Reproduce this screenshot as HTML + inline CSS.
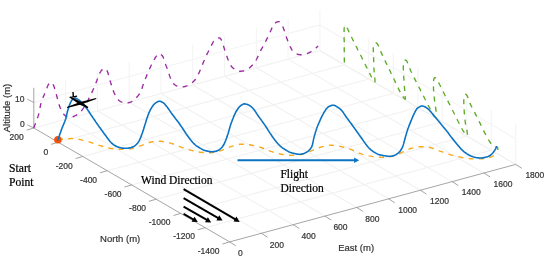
<!DOCTYPE html>
<html><head><meta charset="utf-8"><title>Dynamic soaring trajectory</title>
<style>
html,body{margin:0;padding:0;background:#fff;}
body{width:550px;height:263px;overflow:hidden;}
svg{display:block;}
.sans{font-family:"Liberation Sans",Arial,Helvetica,sans-serif;fill:#333;stroke:#333;stroke-width:0.2;}
.serif{font-family:"Liberation Serif","Times New Roman",Times,serif;fill:#000;stroke:#000;stroke-width:0.22;}
</style></head><body>
<svg width="550" height="263" viewBox="0 0 550 263">
<rect width="550" height="263" fill="#fff"/>
<g fill="none">
<line x1="65.59" y1="119.39" x2="261.39" y2="233.29" stroke="#f1f1f1" stroke-width="1.1"/>
<line x1="97.38" y1="110.78" x2="293.18" y2="224.68" stroke="#f1f1f1" stroke-width="1.1"/>
<line x1="129.17" y1="102.17" x2="324.97" y2="216.07" stroke="#f1f1f1" stroke-width="1.1"/>
<line x1="160.96" y1="93.56" x2="356.76" y2="207.46" stroke="#f1f1f1" stroke-width="1.1"/>
<line x1="192.74" y1="84.94" x2="388.54" y2="198.84" stroke="#f1f1f1" stroke-width="1.1"/>
<line x1="224.53" y1="76.33" x2="420.33" y2="190.23" stroke="#f1f1f1" stroke-width="1.1"/>
<line x1="256.32" y1="67.72" x2="452.12" y2="181.62" stroke="#f1f1f1" stroke-width="1.1"/>
<line x1="288.11" y1="59.11" x2="483.91" y2="173.01" stroke="#f1f1f1" stroke-width="1.1"/>
<line x1="319.90" y1="50.50" x2="515.70" y2="164.40" stroke="#f1f1f1" stroke-width="1.1"/>
<line x1="33.80" y1="128.00" x2="319.90" y2="50.50" stroke="#f1f1f1" stroke-width="1.1"/>
<line x1="58.27" y1="142.24" x2="344.38" y2="64.74" stroke="#f1f1f1" stroke-width="1.1"/>
<line x1="82.75" y1="156.47" x2="368.85" y2="78.97" stroke="#f1f1f1" stroke-width="1.1"/>
<line x1="107.23" y1="170.71" x2="393.33" y2="93.21" stroke="#f1f1f1" stroke-width="1.1"/>
<line x1="131.70" y1="184.95" x2="417.80" y2="107.45" stroke="#f1f1f1" stroke-width="1.1"/>
<line x1="156.18" y1="199.19" x2="442.28" y2="121.69" stroke="#f1f1f1" stroke-width="1.1"/>
<line x1="180.65" y1="213.43" x2="466.75" y2="135.93" stroke="#f1f1f1" stroke-width="1.1"/>
<line x1="205.12" y1="227.66" x2="491.23" y2="150.16" stroke="#f1f1f1" stroke-width="1.1"/>
<line x1="65.59" y1="119.39" x2="65.59" y2="79.19" stroke="#f4f4f4" stroke-width="1.1"/>
<line x1="97.38" y1="110.78" x2="97.38" y2="70.58" stroke="#f4f4f4" stroke-width="1.1"/>
<line x1="129.17" y1="102.17" x2="129.17" y2="61.97" stroke="#f4f4f4" stroke-width="1.1"/>
<line x1="160.96" y1="93.56" x2="160.96" y2="53.36" stroke="#f4f4f4" stroke-width="1.1"/>
<line x1="192.74" y1="84.94" x2="192.74" y2="44.74" stroke="#f4f4f4" stroke-width="1.1"/>
<line x1="224.53" y1="76.33" x2="224.53" y2="36.13" stroke="#f4f4f4" stroke-width="1.1"/>
<line x1="256.32" y1="67.72" x2="256.32" y2="27.52" stroke="#f4f4f4" stroke-width="1.1"/>
<line x1="288.11" y1="59.11" x2="288.11" y2="18.91" stroke="#f4f4f4" stroke-width="1.1"/>
<line x1="319.90" y1="50.50" x2="319.90" y2="10.30" stroke="#f4f4f4" stroke-width="1.1"/>
<line x1="33.80" y1="102.40" x2="319.90" y2="24.90" stroke="#f4f4f4" stroke-width="1.1"/>
<line x1="344.38" y1="64.74" x2="344.38" y2="24.54" stroke="#f4f4f4" stroke-width="1.1"/>
<line x1="368.85" y1="78.97" x2="368.85" y2="38.77" stroke="#f4f4f4" stroke-width="1.1"/>
<line x1="393.33" y1="93.21" x2="393.33" y2="53.01" stroke="#f4f4f4" stroke-width="1.1"/>
<line x1="417.80" y1="107.45" x2="417.80" y2="67.25" stroke="#f4f4f4" stroke-width="1.1"/>
<line x1="442.28" y1="121.69" x2="442.28" y2="81.49" stroke="#f4f4f4" stroke-width="1.1"/>
<line x1="466.75" y1="135.93" x2="466.75" y2="95.73" stroke="#f4f4f4" stroke-width="1.1"/>
<line x1="491.23" y1="150.16" x2="491.23" y2="109.96" stroke="#f4f4f4" stroke-width="1.1"/>
<line x1="515.70" y1="164.40" x2="515.70" y2="124.20" stroke="#f4f4f4" stroke-width="1.1"/>
<line x1="319.90" y1="24.90" x2="515.70" y2="138.80" stroke="#f4f4f4" stroke-width="1.1"/>
<line x1="319.90" y1="50.50" x2="515.70" y2="164.40" stroke="#f1f1f1" stroke-width="1.1"/>
<line x1="33.80" y1="128.00" x2="229.60" y2="241.90" stroke="#8e8e8e" stroke-width="0.8"/>
<line x1="229.60" y1="241.90" x2="515.70" y2="164.40" stroke="#8e8e8e" stroke-width="0.8"/>
<line x1="33.80" y1="128.00" x2="33.80" y2="87.80" stroke="#8e8e8e" stroke-width="0.8"/>
<line x1="33.80" y1="128.00" x2="26.60" y2="130.10" stroke="#8e8e8e" stroke-width="0.8"/>
<line x1="58.27" y1="142.24" x2="51.07" y2="144.34" stroke="#8e8e8e" stroke-width="0.8"/>
<line x1="82.75" y1="156.47" x2="75.55" y2="158.57" stroke="#8e8e8e" stroke-width="0.8"/>
<line x1="107.23" y1="170.71" x2="100.03" y2="172.81" stroke="#8e8e8e" stroke-width="0.8"/>
<line x1="131.70" y1="184.95" x2="124.50" y2="187.05" stroke="#8e8e8e" stroke-width="0.8"/>
<line x1="156.18" y1="199.19" x2="148.98" y2="201.29" stroke="#8e8e8e" stroke-width="0.8"/>
<line x1="180.65" y1="213.43" x2="173.45" y2="215.53" stroke="#8e8e8e" stroke-width="0.8"/>
<line x1="205.12" y1="227.66" x2="197.93" y2="229.76" stroke="#8e8e8e" stroke-width="0.8"/>
<line x1="229.60" y1="241.90" x2="222.40" y2="244.00" stroke="#8e8e8e" stroke-width="0.8"/>
<line x1="229.60" y1="241.90" x2="235.80" y2="245.80" stroke="#8e8e8e" stroke-width="0.8"/>
<line x1="261.39" y1="233.29" x2="267.59" y2="237.19" stroke="#8e8e8e" stroke-width="0.8"/>
<line x1="293.18" y1="224.68" x2="299.38" y2="228.58" stroke="#8e8e8e" stroke-width="0.8"/>
<line x1="324.97" y1="216.07" x2="331.17" y2="219.97" stroke="#8e8e8e" stroke-width="0.8"/>
<line x1="356.76" y1="207.46" x2="362.96" y2="211.36" stroke="#8e8e8e" stroke-width="0.8"/>
<line x1="388.54" y1="198.84" x2="394.74" y2="202.74" stroke="#8e8e8e" stroke-width="0.8"/>
<line x1="420.33" y1="190.23" x2="426.53" y2="194.13" stroke="#8e8e8e" stroke-width="0.8"/>
<line x1="452.12" y1="181.62" x2="458.32" y2="185.52" stroke="#8e8e8e" stroke-width="0.8"/>
<line x1="483.91" y1="173.01" x2="490.11" y2="176.91" stroke="#8e8e8e" stroke-width="0.8"/>
<line x1="515.70" y1="164.40" x2="521.90" y2="168.30" stroke="#8e8e8e" stroke-width="0.8"/>
<line x1="33.80" y1="128.00" x2="27.30" y2="124.80" stroke="#8e8e8e" stroke-width="0.8"/>
<line x1="33.80" y1="102.40" x2="27.30" y2="99.20" stroke="#8e8e8e" stroke-width="0.8"/>
</g>
<g fill="none" stroke-linejoin="round">
<path d="M33.8,128.0 L34.1,127.1 L34.5,126.1 L34.8,125.1 L35.2,124.2 L35.5,123.2 L35.9,122.3 L36.2,121.4 L36.5,120.5 L36.8,119.7 L37.1,119.0 L37.3,118.3 L37.6,117.6 L37.9,116.9 L38.1,116.1 L38.4,115.2 L38.7,114.1 L39.0,112.8 L39.3,111.3 L39.6,109.7 L40.0,108.0 L40.3,106.3 L40.6,104.7 L41.0,103.2 L41.3,101.9 L41.6,100.8 L42.0,99.9 L42.3,99.0 L42.6,98.3 L43.0,97.5 L43.3,96.9 L43.6,96.2 L43.9,95.5 L44.2,94.8 L44.4,94.1 L44.7,93.5 L44.9,92.9 L45.2,92.3 L45.4,91.6 L45.6,91.0 L45.9,90.4 L46.2,89.7 L46.4,89.1 L46.7,88.4 L47.0,87.7 L47.2,87.0 L47.5,86.4 L47.8,85.8 L48.0,85.3 L48.2,84.9 L48.4,84.5 L48.6,84.2 L48.8,84.0 L49.0,83.8 L49.2,83.6 L49.4,83.4 L49.6,83.2 L49.8,83.0 L50.0,82.8 L50.1,82.7 L50.3,82.5 L50.5,82.4 L50.6,82.3 L50.8,82.3 L51.0,82.3 L51.2,82.3 L51.4,82.4 L51.6,82.5 L51.8,82.7 L52.0,82.9 L52.2,83.1 L52.4,83.3 L52.6,83.6 L52.8,83.9 L53.0,84.2 L53.2,84.6 L53.4,84.9 L53.5,85.3 L53.7,85.8 L53.9,86.3 L54.1,86.8 L54.3,87.4 L54.5,88.0 L54.7,88.7 L54.9,89.5 L55.1,90.2 L55.3,91.0 L55.5,91.7 L55.7,92.4 L55.9,93.1 L56.1,93.7 L56.3,94.4 L56.5,95.1 L56.7,95.7 L56.9,96.4 L57.0,97.0 L57.2,97.6 L57.3,98.2 L57.5,98.7 L57.6,99.2 L57.7,99.7 L57.8,100.2 L57.9,100.7 L58.0,101.3 L58.2,101.9 L58.4,102.6 L58.6,103.3 L58.9,104.1 L59.2,105.0 L59.5,105.8 L59.7,106.6 L60.0,107.3 L60.3,108.0 L60.6,108.6 L60.8,109.2 L61.1,109.8 L61.3,110.4 L61.6,110.9 L61.9,111.4 L62.1,111.9 L62.4,112.3 L62.7,112.7 L62.9,113.1 L63.2,113.5 L63.4,113.8 L63.7,114.1 L63.9,114.4 L64.2,114.7 L64.5,115.0 L64.8,115.3 L65.1,115.6 L65.4,115.8 L65.7,116.1 L66.0,116.3 L66.4,116.5 L66.7,116.7 L67.1,116.8 L67.5,116.9 L67.9,117.0 L68.3,117.0 L68.7,117.1 L69.2,117.1 L69.6,117.1 L70.1,117.0 L70.5,117.0 L70.9,117.0 L71.4,116.9 L71.8,116.9 L72.2,116.9 L72.6,116.8 L73.1,116.6 L73.6,116.5 L74.2,116.2 L74.8,115.9 L75.6,115.5 L76.3,115.1 L77.1,114.6 L77.9,114.1 L78.7,113.5 L79.5,112.9 L80.2,112.2 L80.9,111.5 L81.6,110.7 L82.2,109.8 L82.9,108.9 L83.5,108.0 L84.1,107.0 L84.7,106.0 L85.3,105.1 L85.9,104.2 L86.4,103.3 L86.9,102.4 L87.4,101.4 L87.9,100.5 L88.4,99.5 L88.9,98.4 L89.5,97.3 L90.1,96.1 L90.7,94.8 L91.4,93.4 L92.0,92.1 L92.7,90.6 L93.3,89.2 L93.9,87.8 L94.5,86.5 L95.1,85.1 L95.6,83.8 L96.2,82.3 L96.7,81.0 L97.2,79.6 L97.7,78.4 L98.1,77.2 L98.5,76.2 L98.8,75.3 L99.1,74.6 L99.4,74.0 L99.6,73.5 L99.8,73.0 L100.0,72.5 L100.3,72.1 L100.5,71.7 L100.8,71.3 L101.0,70.9 L101.3,70.6 L101.6,70.3 L101.8,70.1 L102.1,69.8 L102.4,69.6 L102.6,69.4 L102.8,69.2 L103.1,69.0 L103.3,68.8 L103.5,68.7 L103.7,68.6 L104.0,68.5 L104.2,68.4 L104.4,68.4 L104.6,68.4 L104.9,68.5 L105.1,68.6 L105.3,68.8 L105.5,68.9 L105.8,69.1 L106.0,69.4 L106.2,69.6 L106.4,69.8 L106.6,70.1 L106.8,70.4 L107.0,70.7 L107.2,71.0 L107.3,71.4 L107.5,71.8 L107.7,72.3 L107.9,72.8 L108.1,73.4 L108.3,74.0 L108.4,74.7 L108.6,75.3 L108.8,76.0 L109.0,76.7 L109.2,77.4 L109.4,78.1 L109.6,78.8 L109.8,79.5 L110.0,80.2 L110.2,80.9 L110.4,81.7 L110.6,82.3 L110.8,83.0 L111.0,83.6 L111.2,84.2 L111.3,84.8 L111.5,85.3 L111.7,85.9 L111.9,86.4 L112.1,87.1 L112.3,87.7 L112.5,88.4 L112.8,89.1 L113.0,89.9 L113.3,90.6 L113.5,91.4 L113.9,92.2 L114.2,93.0 L114.6,93.8 L115.0,94.6 L115.5,95.5 L116.0,96.5 L116.6,97.4 L117.1,98.3 L117.7,99.1 L118.4,99.9 L119.0,100.5 L119.7,101.0 L120.4,101.5 L121.2,101.9 L122.0,102.2 L122.8,102.5 L123.5,102.7 L124.3,102.9 L125.0,103.0 L125.7,103.1 L126.3,103.1 L126.9,103.1 L127.6,103.0 L128.2,102.9 L128.8,102.7 L129.4,102.5 L130.0,102.3 L130.6,102.1 L131.2,101.8 L131.8,101.5 L132.5,101.1 L133.1,100.8 L133.7,100.3 L134.3,99.8 L135.0,99.2 L135.7,98.5 L136.4,97.7 L137.2,96.8 L138.0,95.9 L138.7,94.9 L139.4,94.0 L140.0,93.0 L140.6,92.1 L141.0,91.3 L141.4,90.5 L141.7,89.7 L141.9,88.9 L142.1,88.1 L142.3,87.2 L142.6,86.3 L143.0,85.2 L143.4,84.0 L143.9,82.8 L144.4,81.4 L144.9,80.0 L145.5,78.6 L146.1,77.1 L146.6,75.7 L147.2,74.3 L147.8,72.9 L148.4,71.4 L149.1,70.0 L149.7,68.5 L150.4,67.1 L151.0,65.7 L151.6,64.4 L152.2,63.2 L152.8,62.1 L153.4,61.0 L153.9,60.0 L154.5,59.1 L155.0,58.2 L155.5,57.5 L155.9,56.8 L156.3,56.2 L156.6,55.8 L156.8,55.4 L157.0,55.3 L157.1,55.1 L157.2,55.1 L157.3,55.0 L157.4,54.9 L157.6,54.8 L157.8,54.6 L158.0,54.4 L158.3,54.2 L158.5,54.0 L158.8,53.9 L159.0,53.8 L159.3,53.7 L159.6,53.7 L159.9,53.8 L160.2,53.9 L160.6,54.1 L160.9,54.3 L161.2,54.6 L161.6,54.9 L161.9,55.2 L162.2,55.6 L162.5,56.0 L162.8,56.4 L163.0,56.9 L163.3,57.4 L163.5,58.0 L163.7,58.5 L164.0,59.1 L164.2,59.7 L164.4,60.3 L164.6,60.9 L164.8,61.6 L165.0,62.2 L165.2,62.9 L165.4,63.6 L165.6,64.2 L165.8,64.9 L166.0,65.5 L166.3,66.2 L166.5,66.8 L166.8,67.5 L167.1,68.1 L167.3,68.7 L167.6,69.4 L167.8,70.0 L168.0,70.6 L168.2,71.3 L168.4,71.9 L168.6,72.5 L168.8,73.2 L169.0,73.8 L169.2,74.5 L169.4,75.1 L169.6,75.7 L169.9,76.4 L170.1,77.1 L170.3,77.7 L170.6,78.4 L170.9,79.0 L171.2,79.7 L171.5,80.3 L171.9,80.9 L172.2,81.6 L172.6,82.2 L173.0,82.9 L173.4,83.5 L173.9,84.0 L174.4,84.5 L175.0,85.0 L175.7,85.4 L176.4,85.8 L177.2,86.1 L178.0,86.4 L178.8,86.7 L179.7,86.8 L180.5,87.0 L181.4,87.0 L182.3,87.0 L183.1,86.9 L184.0,86.7 L184.9,86.5 L185.8,86.2 L186.7,85.9 L187.6,85.5 L188.5,85.0 L189.4,84.5 L190.3,83.9 L191.2,83.3 L192.1,82.7 L193.0,81.9 L193.9,81.1 L194.7,80.2 L195.5,79.3 L196.2,78.3 L196.9,77.1 L197.6,75.9 L198.2,74.6 L198.8,73.3 L199.4,72.0 L200.0,70.6 L200.6,69.2 L201.2,67.8 L201.8,66.3 L202.4,64.9 L203.0,63.3 L203.6,61.8 L204.3,60.3 L204.9,58.7 L205.6,57.2 L206.3,55.6 L207.1,53.9 L208.0,52.2 L208.8,50.5 L209.7,48.9 L210.5,47.4 L211.1,46.0 L211.7,44.9 L212.1,44.0 L212.4,43.4 L212.7,42.9 L212.8,42.6 L213.0,42.3 L213.1,42.1 L213.3,41.8 L213.5,41.5 L213.8,41.2 L214.0,40.8 L214.3,40.5 L214.6,40.3 L214.9,40.0 L215.2,39.7 L215.5,39.5 L215.8,39.3 L216.1,39.1 L216.4,38.9 L216.7,38.8 L216.9,38.6 L217.2,38.5 L217.5,38.4 L217.8,38.3 L218.0,38.2 L218.2,38.1 L218.4,38.0 L218.6,38.0 L218.8,37.9 L219.0,37.9 L219.2,37.9 L219.4,37.9 L219.6,38.0 L219.8,38.1 L220.0,38.2 L220.2,38.4 L220.4,38.5 L220.6,38.8 L220.8,39.0 L221.0,39.3 L221.2,39.6 L221.4,40.0 L221.5,40.3 L221.7,40.7 L221.8,41.2 L222.0,41.7 L222.2,42.2 L222.4,42.8 L222.6,43.5 L222.9,44.3 L223.2,45.2 L223.5,46.1 L223.8,47.1 L224.1,48.1 L224.5,49.2 L224.8,50.3 L225.2,51.3 L225.6,52.4 L225.9,53.5 L226.3,54.6 L226.7,55.8 L227.1,56.9 L227.4,58.0 L227.8,59.0 L228.2,60.0 L228.6,60.9 L228.9,61.8 L229.3,62.6 L229.6,63.4 L230.0,64.1 L230.4,64.9 L230.8,65.5 L231.3,66.2 L231.8,66.8 L232.4,67.4 L233.0,68.0 L233.7,68.5 L234.3,69.0 L235.0,69.5 L235.7,69.9 L236.3,70.2 L236.9,70.5 L237.5,70.7 L238.1,70.9 L238.7,71.1 L239.3,71.2 L240.0,71.2 L240.6,71.2 L241.3,71.2 L242.0,71.1 L242.8,71.0 L243.6,70.8 L244.4,70.5 L245.1,70.2 L245.9,69.9 L246.7,69.6 L247.4,69.2 L248.1,68.8 L248.8,68.4 L249.4,67.9 L250.0,67.4 L250.6,66.8 L251.2,66.3 L251.8,65.7 L252.4,65.1 L252.9,64.5 L253.5,63.9 L254.0,63.2 L254.5,62.6 L255.0,61.9 L255.4,61.1 L255.9,60.3 L256.4,59.5 L256.9,58.6 L257.3,57.7 L257.8,56.7 L258.3,55.7 L258.7,54.6 L259.2,53.5 L259.7,52.4 L260.3,51.3 L260.9,50.1 L261.6,48.9 L262.3,47.6 L263.0,46.2 L263.7,44.9 L264.4,43.6 L265.1,42.4 L265.7,41.2 L266.3,40.1 L266.8,39.0 L267.4,37.9 L267.9,36.8 L268.4,35.8 L268.8,34.8 L269.3,33.9 L269.7,33.0 L270.1,32.2 L270.4,31.4 L270.8,30.6 L271.1,29.9 L271.4,29.2 L271.7,28.5 L272.0,27.9 L272.3,27.3 L272.6,26.7 L272.9,26.1 L273.3,25.6 L273.6,25.0 L273.9,24.5 L274.2,24.1 L274.6,23.7 L274.9,23.3 L275.3,23.0 L275.7,22.7 L276.1,22.4 L276.5,22.2 L276.9,22.0 L277.3,21.9 L277.7,21.8 L278.0,21.7 L278.3,21.6 L278.5,21.6 L278.7,21.6 L279.0,21.7 L279.1,21.7 L279.3,21.8 L279.6,22.0 L279.8,22.2 L280.1,22.4 L280.3,22.7 L280.6,23.0 L280.9,23.4 L281.2,23.8 L281.5,24.3 L281.8,24.8 L282.1,25.3 L282.4,25.9 L282.7,26.5 L283.0,27.2 L283.3,27.9 L283.6,28.6 L283.9,29.4 L284.2,30.3 L284.5,31.2 L284.8,32.2 L285.2,33.2 L285.5,34.3 L285.9,35.5 L286.3,36.7 L286.7,37.9 L287.1,39.0 L287.5,40.2 L288.0,41.4 L288.4,42.6 L289.0,43.8 L289.5,45.1 L290.0,46.3 L290.6,47.4 L291.1,48.4 L291.6,49.3 L292.1,50.1 L292.6,50.7 L293.1,51.3 L293.5,51.8 L294.0,52.2 L294.5,52.6 L295.1,53.0 L295.6,53.3 L296.2,53.6 L296.7,53.9 L297.3,54.1 L297.9,54.3 L298.5,54.5 L299.2,54.6 L299.9,54.7 L300.6,54.7 L301.4,54.7 L302.3,54.6 L303.2,54.5 L304.1,54.3 L305.0,54.1 L306.0,53.9 L306.9,53.6 L307.7,53.3 L308.5,53.0 L309.3,52.6 L310.1,52.2 L310.9,51.8 L311.6,51.3 L312.3,50.8 L313.0,50.4 L313.7,49.9 L314.3,49.4 L314.9,48.9 L315.5,48.4 L316.0,47.9 L316.5,47.4 L317.0,46.9 L317.6,46.4 L318.1,45.9" stroke="#9a27a0" stroke-width="1.35" stroke-dasharray="5.1 5.4"/>
<path d="M344.4,64.7 L344.4,62.2 L344.3,59.7 L344.3,57.1 L344.3,54.6 L344.3,52.0 L344.2,49.6 L344.2,47.2 L344.2,45.0 L344.2,42.8 L344.2,40.7 L344.1,38.5 L344.1,36.5 L344.1,34.6 L344.1,32.8 L344.1,31.3 L344.1,30.0 L344.1,29.0 L344.2,28.3 L344.2,27.7 L344.3,27.4 L344.3,27.1 L344.4,26.9 L344.5,26.7 L344.6,26.5 L344.7,26.2 L344.8,26.0 L345.0,25.8 L345.1,25.7 L345.2,25.5 L345.4,25.5 L345.5,25.5 L345.7,25.5 L345.9,25.6 L346.0,25.8 L346.2,26.0 L346.3,26.3 L346.5,26.6 L346.7,26.9 L346.8,27.2 L347.0,27.5 L347.1,27.8 L347.2,28.0 L347.3,28.2 L347.4,28.4 L347.5,28.7 L347.7,29.0 L347.9,29.5 L348.2,30.1 L348.6,30.9 L349.0,31.8 L349.5,32.8 L350.0,33.8 L350.5,35.0 L351.1,36.2 L351.6,37.3 L352.2,38.5 L352.8,39.7 L353.4,40.9 L354.0,42.1 L354.6,43.4 L355.3,44.7 L355.9,46.0 L356.6,47.2 L357.2,48.5 L357.8,49.8 L358.5,51.0 L359.1,52.3 L359.8,53.5 L360.4,54.8 L361.1,56.0 L361.7,57.3 L362.3,58.5 L362.9,59.7 L363.5,60.9 L364.1,62.2 L364.7,63.4 L365.3,64.6 L365.9,65.7 L366.4,66.9 L367.0,68.0 L367.5,69.1 L368.1,70.2 L368.6,71.2 L369.1,72.3 L369.6,73.3 L370.1,74.2 L370.6,75.2 L371.0,76.0 L371.4,76.8 L371.9,77.6 L372.3,78.3 L372.7,79.0 L373.1,79.6 L373.4,80.1 L373.7,80.6 L374.0,81.0 L374.2,81.3 L374.4,81.6 L374.6,81.8 L374.7,81.9 L374.8,81.9 L374.9,81.9 L375.0,81.8 L375.0,81.5 L375.0,81.1 L375.0,80.6 L375.0,79.9 L374.9,79.2 L374.8,78.4 L374.7,77.6 L374.7,76.8 L374.6,76.0 L374.5,75.3 L374.5,74.6 L374.4,73.9 L374.3,73.1 L374.2,72.3 L374.1,71.4 L374.1,70.4 L374.0,69.2 L373.9,67.7 L373.9,66.0 L373.8,64.2 L373.7,62.2 L373.7,60.3 L373.6,58.4 L373.5,56.6 L373.5,55.1 L373.5,53.8 L373.4,52.5 L373.3,51.4 L373.3,50.4 L373.3,49.4 L373.2,48.5 L373.3,47.7 L373.3,47.0 L373.4,46.4 L373.5,45.8 L373.6,45.4 L373.8,45.1 L373.9,44.8 L374.1,44.5 L374.3,44.2 L374.5,44.0 L374.7,43.8 L374.9,43.5 L375.2,43.3 L375.4,43.1 L375.7,43.0 L376.0,42.9 L376.2,42.9 L376.5,43.0 L376.7,43.2 L377.0,43.4 L377.2,43.7 L377.4,44.0 L377.7,44.4 L377.9,44.9 L378.2,45.4 L378.5,46.0 L378.8,46.7 L379.1,47.4 L379.4,48.2 L379.8,49.0 L380.1,49.9 L380.5,50.9 L380.9,51.9 L381.4,53.0 L381.9,54.1 L382.5,55.4 L383.1,56.7 L383.8,58.0 L384.4,59.4 L385.1,60.8 L385.8,62.2 L386.4,63.5 L387.0,64.8 L387.7,66.2 L388.4,67.5 L389.0,68.9 L389.7,70.2 L390.3,71.5 L390.9,72.8 L391.5,74.0 L392.0,75.1 L392.6,76.2 L393.0,77.3 L393.5,78.3 L394.0,79.3 L394.5,80.3 L395.0,81.4 L395.5,82.5 L396.1,83.7 L396.7,85.0 L397.3,86.3 L398.0,87.6 L398.6,88.9 L399.2,90.1 L399.8,91.3 L400.3,92.3 L400.8,93.2 L401.2,94.0 L401.7,94.7 L402.1,95.4 L402.5,96.0 L402.8,96.5 L403.2,97.0 L403.5,97.5 L403.8,97.9 L404.1,98.2 L404.3,98.5 L404.6,98.7 L404.8,98.9 L405.0,99.1 L405.3,99.3 L405.5,99.5" stroke="#5caa26" stroke-width="1.35" stroke-dasharray="5 5.1" stroke-dashoffset="-2.30"/>
<path d="M405.5,99.5 L405.4,98.9 L405.4,98.4 L405.3,97.9 L405.2,97.3 L405.2,96.8 L405.1,96.2 L405.1,95.6 L405.0,95.0 L404.9,94.4 L404.9,93.7 L404.9,93.1 L404.8,92.5 L404.8,91.7 L404.7,91.0 L404.7,90.1 L404.6,89.1 L404.5,88.0 L404.4,86.7 L404.3,85.3 L404.2,83.9 L404.1,82.4 L404.0,80.9 L403.9,79.5 L403.8,78.1 L403.7,76.8 L403.6,75.4 L403.6,74.0 L403.5,72.7 L403.4,71.4 L403.4,70.1 L403.3,69.0 L403.3,68.0 L403.3,67.1 L403.3,66.3 L403.3,65.7 L403.3,65.0 L403.3,64.5 L403.3,64.0 L403.4,63.5 L403.5,63.0 L403.6,62.5 L403.8,62.0 L404.0,61.6 L404.2,61.2 L404.5,60.8 L404.7,60.5 L405.0,60.2 L405.2,60.1 L405.4,60.1 L405.6,60.1 L405.9,60.2 L406.1,60.4 L406.3,60.6 L406.6,60.9 L406.8,61.2 L407.0,61.5 L407.2,61.8 L407.4,62.2 L407.6,62.6 L407.7,63.0 L407.9,63.5 L408.1,64.0 L408.3,64.5 L408.5,65.0 L408.7,65.5 L408.9,66.1 L409.1,66.6 L409.3,67.2 L409.5,67.8 L409.8,68.5 L410.1,69.2 L410.4,70.0 L410.8,70.9 L411.2,71.8 L411.7,72.8 L412.2,73.8 L412.7,74.9 L413.3,75.9 L413.8,77.1 L414.4,78.2 L415.0,79.4 L415.6,80.6 L416.2,81.8 L416.9,83.1 L417.6,84.4 L418.2,85.7 L418.9,87.0 L419.5,88.2 L420.1,89.4 L420.7,90.6 L421.3,91.7 L421.9,92.9 L422.4,94.0 L423.0,95.2 L423.6,96.3 L424.2,97.5 L424.8,98.7 L425.5,100.0 L426.1,101.2 L426.8,102.5 L427.4,103.8 L428.0,105.0 L428.6,106.1 L429.2,107.2 L429.7,108.2 L430.3,109.2 L430.8,110.1 L431.2,111.0 L431.7,111.8 L432.1,112.6 L432.6,113.3 L433.0,114.0 L433.4,114.6 L433.8,115.2 L434.2,115.8 L434.6,116.3 L435.0,116.8 L435.3,117.1 L435.6,117.3 L435.8,117.3 L436.0,117.2 L436.1,116.8 L436.2,116.4 L436.3,115.9 L436.3,115.2 L436.3,114.5 L436.3,113.8 L436.3,113.0 L436.2,112.2 L436.1,111.3 L436.0,110.3 L435.8,109.2 L435.7,108.2 L435.5,107.1 L435.3,106.0 L435.2,105.0 L435.1,104.0 L434.9,103.0 L434.8,102.0 L434.7,101.1 L434.5,100.1 L434.4,99.1 L434.3,98.0 L434.2,97.0 L434.1,95.9 L434.0,94.8 L433.9,93.7 L433.8,92.5 L433.7,91.4 L433.6,90.3 L433.5,89.2 L433.5,88.1 L433.5,87.1 L433.4,86.0 L433.4,84.9 L433.4,83.9 L433.5,82.9 L433.5,82.0 L433.5,81.2 L433.6,80.5 L433.7,79.9 L433.8,79.4 L433.9,79.0 L434.0,78.6 L434.1,78.3 L434.3,78.1 L434.4,77.9 L434.6,77.8 L434.8,77.7 L435.0,77.7 L435.2,77.7 L435.5,77.8 L435.7,77.9 L436.0,78.0 L436.3,78.3 L436.5,78.5 L436.7,78.8 L436.9,79.1 L437.1,79.4 L437.3,79.8 L437.5,80.3 L437.8,80.8 L438.1,81.4 L438.4,82.1 L438.8,82.9 L439.2,83.7 L439.7,84.7 L440.2,85.7 L440.7,86.8 L441.3,87.9 L441.8,89.0 L442.4,90.1 L443.0,91.3 L443.6,92.5 L444.2,93.7 L444.8,95.0 L445.5,96.3 L446.1,97.6 L446.8,98.8 L447.4,100.1 L448.0,101.3 L448.6,102.6 L449.3,103.8 L449.9,105.0 L450.5,106.3 L451.1,107.5 L451.8,108.8 L452.4,110.0 L453.0,111.2 L453.7,112.5 L454.3,113.8 L454.9,115.0 L455.5,116.3 L456.2,117.5 L456.8,118.8 L457.4,120.0 L458.0,121.2 L458.7,122.5 L459.3,123.8 L460.0,125.1 L460.6,126.3 L461.2,127.5 L461.8,128.6 L462.3,129.5 L462.8,130.3 L463.2,131.0 L463.7,131.7 L464.1,132.2 L464.5,132.8 L464.8,133.2 L465.2,133.6 L465.5,134.0 L465.8,134.4 L466.1,134.7 L466.4,135.0 L466.7,135.3 L466.9,135.5 L467.1,135.6 L467.3,135.6 L467.4,135.5 L467.5,135.2 L467.5,134.9 L467.5,134.4 L467.4,133.8 L467.3,133.2 L467.2,132.5 L467.1,131.8 L467.0,131.0 L466.9,130.2 L466.7,129.4 L466.5,128.5 L466.2,127.6 L466.0,126.6 L465.8,125.5 L465.6,124.4 L465.4,123.2 L465.2,121.9 L465.1,120.4 L464.9,118.9 L464.7,117.3 L464.6,115.7 L464.4,114.1 L464.3,112.5 L464.2,111.0 L464.1,109.5 L464.0,108.0 L464.0,106.5 L463.9,105.0 L463.8,103.6 L463.8,102.2 L463.8,101.0 L463.8,100.0 L463.8,99.1 L463.8,98.5 L463.9,97.9 L463.9,97.4 L464.0,97.0 L464.1,96.7 L464.2,96.3 L464.3,96.0 L464.4,95.6 L464.6,95.3 L464.7,95.0 L464.9,94.7 L465.0,94.5 L465.2,94.3 L465.4,94.2 L465.6,94.2 L465.8,94.3 L466.0,94.4 L466.2,94.5 L466.5,94.8 L466.7,95.1 L466.9,95.5 L467.2,95.9 L467.5,96.5 L467.8,97.2 L468.1,98.0 L468.4,98.9 L468.7,99.8 L469.1,100.8 L469.5,101.9 L469.9,103.0 L470.4,104.1 L470.9,105.2 L471.5,106.4 L472.2,107.7 L472.8,108.9 L473.5,110.2 L474.2,111.5 L474.9,112.8 L475.5,114.1 L476.1,115.4 L476.8,116.6 L477.4,117.9 L478.0,119.1 L478.6,120.4 L479.3,121.7 L479.9,122.9 L480.5,124.2 L481.1,125.5 L481.8,126.8 L482.4,128.1 L483.0,129.3 L483.6,130.6 L484.2,131.9 L484.9,133.1 L485.5,134.3 L486.1,135.5 L486.8,136.7 L487.4,137.8 L488.1,139.0 L488.7,140.0 L489.4,141.1 L489.9,142.0 L490.5,142.8 L491.0,143.5 L491.5,144.1 L491.9,144.7 L492.3,145.1 L492.8,145.5 L493.2,145.9 L493.6,146.2 L494.0,146.5 L494.5,146.7 L495.0,146.9 L495.5,146.9 L495.9,147.0 L496.4,147.0 L496.8,147.1 L497.2,147.2 L497.5,147.5 L497.7,147.9 L497.8,148.3 L497.8,148.8 L497.8,149.3 L497.8,149.9 L497.8,150.4 L497.8,151.0 L497.8,151.5" stroke="#5caa26" stroke-width="1.35" stroke-dasharray="5.05 5.22" stroke-dashoffset="1.61"/>
<path d="M57.9,139.8 L58.4,139.7 L58.9,139.7 L59.4,139.6 L59.8,139.6 L60.3,139.5 L60.8,139.4 L61.4,139.4 L62.0,139.3 L62.7,139.2 L63.4,139.1 L64.1,139.1 L64.9,139.0 L65.7,138.9 L66.5,138.8 L67.2,138.8 L68.0,138.7 L68.8,138.7 L69.5,138.6 L70.2,138.6 L71.0,138.5 L71.8,138.5 L72.5,138.5 L73.2,138.6 L74.0,138.6 L74.7,138.7 L75.4,138.7 L76.1,138.8 L76.8,138.9 L77.5,139.1 L78.2,139.2 L79.1,139.4 L80.0,139.6 L81.1,139.8 L82.2,140.1 L83.5,140.4 L84.7,140.7 L86.1,141.1 L87.4,141.5 L88.7,141.8 L90.0,142.2 L91.3,142.6 L92.5,143.0 L93.8,143.4 L95.0,143.9 L96.3,144.3 L97.6,144.8 L98.8,145.2 L100.1,145.6 L101.4,146.0 L102.6,146.4 L103.9,146.7 L105.1,147.1 L106.3,147.4 L107.6,147.8 L108.8,148.0 L110.1,148.3 L111.4,148.5 L112.6,148.7 L113.9,148.9 L115.1,149.0 L116.4,149.1 L117.7,149.2 L118.9,149.3 L120.2,149.3 L121.5,149.3 L122.7,149.3 L124.0,149.3 L125.2,149.2 L126.5,149.2 L127.8,149.0 L129.0,148.9 L130.3,148.7 L131.6,148.5 L132.8,148.2 L134.1,147.8 L135.4,147.4 L136.6,147.0 L137.9,146.6 L139.1,146.2 L140.4,145.8 L141.7,145.4 L142.9,144.9 L144.2,144.4 L145.5,143.9 L146.7,143.4 L148.0,142.9 L149.2,142.5 L150.4,142.2 L151.6,141.9 L152.7,141.7 L153.8,141.5 L154.9,141.3 L156.0,141.2 L157.1,141.2 L158.3,141.2 L159.5,141.2 L160.8,141.3 L162.2,141.4 L163.6,141.7 L165.0,141.9 L166.4,142.2 L167.9,142.5 L169.3,142.8 L170.6,143.2 L171.9,143.6 L173.2,144.0 L174.4,144.5 L175.6,145.0 L176.8,145.5 L178.1,146.0 L179.3,146.4 L180.5,146.9 L181.7,147.3 L183.0,147.8 L184.2,148.2 L185.5,148.6 L186.7,149.0 L187.9,149.4 L189.2,149.8 L190.4,150.1 L191.6,150.4 L192.8,150.7 L194.0,151.0 L195.2,151.3 L196.4,151.6 L197.7,151.8 L198.9,152.0 L200.2,152.2 L201.5,152.4 L202.9,152.5 L204.4,152.6 L205.8,152.7 L207.2,152.8 L208.6,152.8 L210.0,152.8 L211.3,152.7 L212.5,152.6 L213.7,152.4 L214.8,152.3 L215.9,152.0 L217.0,151.8 L218.1,151.5 L219.2,151.2 L220.4,150.8 L221.6,150.4 L222.9,149.9 L224.2,149.4 L225.5,148.8 L226.8,148.3 L228.0,147.7 L229.3,147.2 L230.4,146.8 L231.5,146.4 L232.5,146.1 L233.5,145.8 L234.4,145.5 L235.3,145.2 L236.2,145.0 L237.1,144.8 L238.0,144.6 L238.9,144.5 L239.7,144.3 L240.5,144.3 L241.3,144.2 L242.0,144.2 L242.8,144.2 L243.6,144.2 L244.5,144.2 L245.4,144.3 L246.3,144.3 L247.2,144.4 L248.1,144.5 L249.1,144.7 L250.1,144.8 L251.0,145.0 L252.0,145.2 L253.0,145.4 L254.0,145.6 L255.0,145.8 L256.0,146.0 L257.0,146.3 L258.1,146.6 L259.1,146.9 L260.2,147.2 L261.3,147.6 L262.4,148.0 L263.6,148.5 L264.8,149.0 L265.9,149.5 L267.1,150.0 L268.3,150.5 L269.5,150.9 L270.7,151.3 L271.9,151.7 L273.1,152.1 L274.3,152.4 L275.5,152.8 L276.7,153.1 L278.0,153.4 L279.2,153.7 L280.4,154.0 L281.7,154.2 L282.9,154.5 L284.1,154.7 L285.4,154.9 L286.6,155.1 L287.9,155.2 L289.2,155.3 L290.5,155.3 L291.9,155.4 L293.4,155.3 L294.8,155.3 L296.2,155.2 L297.6,155.1 L299.0,154.9 L300.3,154.7 L301.5,154.4 L302.7,154.1 L303.8,153.8 L304.9,153.4 L306.0,152.9 L307.1,152.5 L308.2,152.1 L309.4,151.6 L310.6,151.1 L311.8,150.6 L313.1,150.1 L314.3,149.5 L315.6,148.9 L316.9,148.4 L318.2,147.9 L319.5,147.5 L320.8,147.1 L322.2,146.7 L323.6,146.4 L324.9,146.1 L326.3,145.8 L327.7,145.6 L329.1,145.4 L330.5,145.3 L331.9,145.3 L333.3,145.4 L334.8,145.5 L336.2,145.7 L337.6,145.9 L339.0,146.2 L340.3,146.4 L341.6,146.7 L342.8,147.0 L344.0,147.2 L345.1,147.5 L346.2,147.8 L347.3,148.2 L348.3,148.5 L349.4,148.9 L350.5,149.3 L351.6,149.7 L352.7,150.2 L353.8,150.8 L355.0,151.3 L356.1,151.8 L357.2,152.4 L358.3,152.9 L359.5,153.3 L360.7,153.7 L361.9,154.1 L363.1,154.4 L364.3,154.8 L365.5,155.1 L366.7,155.4 L368.0,155.6 L369.2,155.9 L370.4,156.1 L371.7,156.4 L372.9,156.6 L374.1,156.8 L375.4,157.0 L376.6,157.1 L377.9,157.2 L379.2,157.3 L380.5,157.3 L381.9,157.4 L383.4,157.3 L384.8,157.3 L386.2,157.2 L387.6,157.1 L389.0,156.9 L390.3,156.7 L391.5,156.4 L392.7,156.1 L393.8,155.8 L394.9,155.3 L396.0,154.9 L397.1,154.5 L398.2,154.0 L399.4,153.5 L400.6,153.0 L401.8,152.4 L403.1,151.8 L404.3,151.1 L405.6,150.5 L406.9,149.9 L408.2,149.4 L409.5,148.9 L410.8,148.5 L412.2,148.1 L413.6,147.8 L415.0,147.4 L416.4,147.2 L417.8,147.0 L419.1,146.8 L420.5,146.7 L421.8,146.7 L423.2,146.7 L424.5,146.8 L425.8,146.9 L427.2,147.1 L428.5,147.3 L429.7,147.5 L431.0,147.8 L432.2,148.1 L433.4,148.5 L434.6,148.9 L435.8,149.4 L437.0,149.9 L438.1,150.4 L439.3,150.9 L440.5,151.3 L441.7,151.7 L442.9,152.2 L444.1,152.6 L445.3,153.1 L446.5,153.5 L447.7,153.9 L448.9,154.3 L450.1,154.7 L451.3,155.1 L452.6,155.4 L453.9,155.7 L455.1,156.0 L456.4,156.3 L457.7,156.6 L458.9,156.8 L460.2,157.1 L461.5,157.3 L462.7,157.6 L464.0,157.8 L465.2,158.0 L466.5,158.2 L467.8,158.4 L469.0,158.6 L470.3,158.7 L471.6,158.8 L472.9,158.9 L474.2,158.9 L475.5,159.0 L476.8,159.0 L478.0,159.0 L479.2,158.9 L480.4,158.9 L481.5,158.8 L482.6,158.7 L483.6,158.6 L484.6,158.5 L485.6,158.4 L486.6,158.2 L487.5,158.0 L488.4,157.8 L489.3,157.6 L490.1,157.3 L490.8,157.0 L491.6,156.7 L492.3,156.4 L493.0,156.1 L493.8,155.8 L494.5,155.5" stroke="#f8aa17" stroke-width="1.4" stroke-dasharray="5.1 5.27"/>
<circle cx="57.9" cy="139.8" r="3.8" fill="#f4520b"/>
<path d="M57.9,139.8 L58.3,138.7 L58.7,137.5 L59.1,136.4 L59.5,135.2 L59.9,134.1 L60.3,133.0 L60.7,132.0 L61.0,131.0 L61.3,130.1 L61.6,129.3 L61.9,128.5 L62.2,127.8 L62.5,127.1 L62.7,126.4 L63.0,125.7 L63.3,125.0 L63.6,124.3 L63.9,123.6 L64.2,122.9 L64.5,122.2 L64.8,121.5 L65.0,120.8 L65.3,120.0 L65.6,119.2 L65.9,118.3 L66.1,117.3 L66.4,116.3 L66.6,115.2 L66.8,114.1 L67.1,113.0 L67.3,112.0 L67.6,111.0 L67.9,110.0 L68.2,109.0 L68.5,108.1 L68.8,107.1 L69.1,106.2 L69.4,105.3 L69.7,104.5 L70.0,103.7 L70.3,103.0 L70.6,102.4 L70.9,101.8 L71.2,101.3 L71.4,100.8 L71.7,100.4 L72.0,100.0 L72.3,99.6 L72.6,99.3 L72.8,99.0 L73.1,98.7 L73.4,98.5 L73.6,98.4 L73.9,98.3 L74.2,98.2 L74.5,98.1 L74.8,98.1 L75.1,98.1 L75.4,98.1 L75.8,98.2 L76.1,98.4 L76.4,98.5 L76.8,98.7 L77.2,98.9 L77.6,99.1 L78.0,99.4 L78.4,99.6 L78.9,99.9 L79.3,100.3 L79.8,100.7 L80.3,101.2 L80.9,101.7 L81.5,102.3 L82.2,103.1 L82.9,103.9 L83.6,104.7 L84.4,105.6 L85.1,106.5 L85.8,107.3 L86.5,108.2 L87.1,109.0 L87.7,109.8 L88.2,110.7 L88.8,111.5 L89.3,112.3 L89.9,113.2 L90.5,114.1 L91.1,115.0 L91.8,116.0 L92.5,117.0 L93.2,118.1 L94.0,119.2 L94.7,120.3 L95.4,121.4 L96.1,122.4 L96.7,123.3 L97.3,124.1 L97.8,124.8 L98.2,125.4 L98.7,126.0 L99.1,126.6 L99.5,127.2 L100.0,127.8 L100.5,128.5 L101.0,129.3 L101.6,130.0 L102.2,130.9 L102.8,131.7 L103.4,132.5 L104.0,133.4 L104.6,134.2 L105.2,135.0 L105.8,135.8 L106.4,136.6 L107.0,137.5 L107.6,138.3 L108.2,139.1 L108.8,139.9 L109.3,140.6 L109.8,141.2 L110.3,141.8 L110.8,142.3 L111.2,142.7 L111.6,143.1 L112.0,143.5 L112.5,143.8 L112.9,144.2 L113.3,144.5 L113.8,144.8 L114.3,145.2 L114.8,145.4 L115.3,145.7 L115.8,146.0 L116.3,146.2 L116.8,146.5 L117.3,146.7 L117.8,146.9 L118.3,147.1 L118.7,147.3 L119.1,147.4 L119.6,147.6 L120.1,147.7 L120.6,147.8 L121.1,147.9 L121.7,148.0 L122.3,148.1 L123.0,148.1 L123.7,148.2 L124.4,148.3 L125.1,148.3 L125.7,148.3 L126.3,148.3 L126.8,148.3 L127.3,148.3 L127.8,148.2 L128.3,148.1 L128.7,148.1 L129.1,148.0 L129.6,147.9 L130.0,147.8 L130.4,147.7 L130.9,147.6 L131.3,147.5 L131.7,147.3 L132.1,147.2 L132.5,147.0 L132.9,146.9 L133.3,146.7 L133.7,146.5 L134.0,146.3 L134.4,146.1 L134.7,145.8 L135.0,145.6 L135.4,145.3 L135.7,145.1 L136.0,144.8 L136.3,144.5 L136.6,144.2 L136.9,143.9 L137.2,143.6 L137.5,143.3 L137.8,142.9 L138.0,142.6 L138.3,142.2 L138.6,141.8 L138.8,141.4 L139.1,140.9 L139.3,140.5 L139.5,140.0 L139.8,139.5 L140.0,139.0 L140.2,138.5 L140.5,138.0 L140.7,137.5 L140.9,136.9 L141.1,136.4 L141.3,135.9 L141.5,135.3 L141.7,134.8 L141.9,134.2 L142.1,133.6 L142.3,133.1 L142.5,132.5 L142.7,131.9 L142.9,131.3 L143.1,130.7 L143.3,130.1 L143.5,129.5 L143.7,128.9 L143.8,128.4 L144.0,127.9 L144.1,127.4 L144.3,126.8 L144.5,126.2 L144.7,125.4 L145.0,124.5 L145.4,123.4 L145.8,122.0 L146.2,120.6 L146.7,119.0 L147.3,117.4 L147.8,115.9 L148.3,114.5 L148.8,113.2 L149.3,112.1 L149.8,111.0 L150.3,109.9 L150.8,109.0 L151.4,108.1 L151.9,107.2 L152.4,106.4 L152.9,105.7 L153.4,105.0 L153.9,104.5 L154.5,103.9 L155.0,103.5 L155.5,103.1 L156.0,102.7 L156.4,102.4 L156.9,102.1 L157.3,101.8 L157.7,101.6 L158.1,101.5 L158.4,101.3 L158.7,101.3 L159.1,101.2 L159.5,101.2 L159.9,101.3 L160.4,101.4 L160.8,101.5 L161.3,101.7 L161.8,101.9 L162.3,102.2 L162.9,102.5 L163.4,102.9 L163.9,103.3 L164.4,103.8 L164.9,104.3 L165.4,104.9 L165.9,105.5 L166.4,106.2 L167.0,106.8 L167.5,107.5 L168.0,108.2 L168.5,108.9 L169.0,109.5 L169.4,110.2 L169.9,110.9 L170.4,111.6 L170.9,112.4 L171.5,113.3 L172.2,114.2 L173.0,115.2 L173.8,116.3 L174.7,117.5 L175.6,118.7 L176.6,119.9 L177.6,121.2 L178.6,122.5 L179.5,123.8 L180.4,125.2 L181.4,126.6 L182.4,128.0 L183.3,129.5 L184.3,131.0 L185.3,132.5 L186.2,133.9 L187.2,135.2 L188.1,136.5 L189.0,137.7 L189.9,138.9 L190.8,140.1 L191.7,141.2 L192.6,142.3 L193.5,143.3 L194.5,144.2 L195.4,145.0 L196.4,145.8 L197.5,146.5 L198.5,147.2 L199.5,147.8 L200.5,148.4 L201.4,148.9 L202.2,149.3 L202.9,149.7 L203.6,150.0 L204.2,150.2 L204.8,150.4 L205.4,150.6 L205.9,150.7 L206.4,150.9 L207.0,151.0 L207.6,151.1 L208.1,151.3 L208.7,151.4 L209.2,151.5 L209.8,151.6 L210.3,151.6 L210.8,151.7 L211.3,151.7 L211.8,151.7 L212.3,151.7 L212.7,151.7 L213.2,151.7 L213.7,151.6 L214.1,151.6 L214.6,151.5 L215.0,151.4 L215.4,151.3 L215.9,151.2 L216.3,151.1 L216.7,151.0 L217.1,150.8 L217.5,150.7 L217.9,150.5 L218.3,150.3 L218.7,150.1 L219.0,149.9 L219.4,149.7 L219.7,149.4 L220.0,149.2 L220.4,148.9 L220.7,148.6 L221.0,148.3 L221.3,148.0 L221.6,147.6 L222.0,147.3 L222.3,146.9 L222.6,146.5 L222.9,146.1 L223.1,145.7 L223.4,145.3 L223.6,144.9 L223.9,144.5 L224.1,144.1 L224.3,143.7 L224.4,143.3 L224.6,142.9 L224.8,142.4 L225.0,142.0 L225.2,141.6 L225.4,141.1 L225.6,140.7 L225.8,140.2 L225.9,139.7 L226.1,139.2 L226.4,138.6 L226.6,138.0 L226.8,137.3 L227.1,136.6 L227.3,135.8 L227.6,134.9 L227.9,134.1 L228.2,133.2 L228.4,132.4 L228.7,131.5 L228.9,130.7 L229.2,129.9 L229.4,129.1 L229.6,128.2 L229.8,127.4 L230.1,126.5 L230.4,125.5 L230.7,124.5 L231.1,123.3 L231.6,122.1 L232.1,120.7 L232.6,119.3 L233.2,118.0 L233.7,116.6 L234.3,115.3 L234.8,114.2 L235.3,113.2 L235.8,112.2 L236.3,111.2 L236.9,110.3 L237.4,109.5 L237.9,108.8 L238.4,108.0 L238.9,107.4 L239.4,106.8 L239.9,106.3 L240.5,105.8 L241.0,105.4 L241.5,105.1 L242.0,104.8 L242.4,104.5 L242.9,104.3 L243.3,104.1 L243.7,104.0 L244.1,103.9 L244.4,103.9 L244.7,103.9 L245.1,104.0 L245.5,104.0 L245.9,104.1 L246.4,104.2 L246.8,104.3 L247.3,104.5 L247.8,104.6 L248.3,104.9 L248.9,105.1 L249.4,105.4 L249.9,105.7 L250.4,106.1 L250.9,106.4 L251.4,106.9 L251.9,107.3 L252.4,107.8 L253.0,108.4 L253.5,109.0 L254.0,109.6 L254.5,110.3 L255.0,111.0 L255.6,111.8 L256.1,112.6 L256.6,113.5 L257.2,114.4 L257.8,115.3 L258.4,116.2 L259.1,117.1 L259.8,118.1 L260.5,119.1 L261.3,120.1 L262.0,121.1 L262.8,122.2 L263.7,123.4 L264.5,124.6 L265.4,125.9 L266.3,127.3 L267.3,128.8 L268.2,130.4 L269.2,131.9 L270.2,133.4 L271.2,134.8 L272.1,136.2 L273.0,137.5 L273.9,138.7 L274.8,139.9 L275.7,141.1 L276.6,142.3 L277.5,143.3 L278.4,144.3 L279.4,145.3 L280.3,146.2 L281.4,147.0 L282.4,147.8 L283.4,148.5 L284.5,149.2 L285.4,149.8 L286.4,150.4 L287.2,150.9 L288.0,151.3 L288.6,151.7 L289.3,152.0 L289.9,152.2 L290.4,152.4 L291.0,152.6 L291.5,152.7 L292.0,152.9 L292.5,153.1 L292.9,153.2 L293.3,153.3 L293.7,153.4 L294.1,153.5 L294.5,153.5 L294.9,153.6 L295.3,153.7 L295.7,153.8 L296.2,153.9 L296.6,154.0 L297.1,154.1 L297.6,154.2 L298.0,154.2 L298.5,154.3 L299.0,154.3 L299.5,154.3 L300.0,154.3 L300.5,154.2 L301.0,154.2 L301.5,154.1 L302.0,154.0 L302.5,153.9 L303.0,153.8 L303.5,153.7 L303.9,153.5 L304.4,153.3 L304.8,153.1 L305.2,152.9 L305.6,152.7 L306.0,152.5 L306.4,152.3 L306.8,152.1 L307.1,151.9 L307.4,151.6 L307.8,151.4 L308.1,151.1 L308.4,150.9 L308.7,150.6 L309.0,150.3 L309.3,150.0 L309.6,149.6 L310.0,149.3 L310.3,148.9 L310.6,148.5 L310.9,148.1 L311.2,147.7 L311.4,147.3 L311.6,146.9 L311.8,146.5 L312.0,146.1 L312.1,145.7 L312.2,145.3 L312.4,144.9 L312.5,144.5 L312.6,144.0 L312.7,143.5 L312.8,143.0 L312.9,142.6 L313.0,142.0 L313.1,141.5 L313.2,140.9 L313.3,140.2 L313.5,139.5 L313.7,138.7 L313.9,137.7 L314.2,136.7 L314.5,135.6 L314.8,134.5 L315.1,133.5 L315.4,132.4 L315.7,131.5 L316.0,130.7 L316.2,129.9 L316.4,129.2 L316.7,128.5 L316.9,127.8 L317.2,127.1 L317.5,126.2 L317.9,125.3 L318.4,124.2 L318.9,123.0 L319.5,121.7 L320.1,120.3 L320.7,118.9 L321.3,117.6 L321.9,116.3 L322.5,115.2 L323.1,114.1 L323.6,113.1 L324.2,112.2 L324.7,111.2 L325.3,110.4 L325.8,109.6 L326.4,108.8 L326.9,108.2 L327.4,107.7 L328.0,107.2 L328.5,106.8 L329.0,106.5 L329.5,106.3 L330.0,106.1 L330.5,105.9 L330.9,105.7 L331.3,105.5 L331.7,105.4 L332.0,105.3 L332.4,105.2 L332.7,105.2 L333.1,105.2 L333.5,105.2 L333.9,105.3 L334.4,105.4 L334.8,105.6 L335.4,105.8 L335.9,106.1 L336.4,106.4 L336.9,106.7 L337.5,107.0 L338.0,107.4 L338.5,107.8 L339.0,108.1 L339.5,108.5 L340.0,108.9 L340.5,109.4 L341.1,109.9 L341.6,110.4 L342.1,111.0 L342.6,111.6 L343.1,112.3 L343.5,112.9 L344.0,113.6 L344.5,114.4 L345.1,115.3 L345.7,116.2 L346.4,117.2 L347.2,118.3 L348.2,119.6 L349.2,121.0 L350.2,122.4 L351.3,123.8 L352.3,125.3 L353.4,126.7 L354.4,128.1 L355.4,129.5 L356.3,130.8 L357.3,132.2 L358.3,133.5 L359.2,134.9 L360.2,136.2 L361.1,137.5 L362.0,138.8 L362.9,140.1 L363.8,141.4 L364.7,142.6 L365.6,143.9 L366.5,145.1 L367.4,146.2 L368.3,147.3 L369.2,148.3 L370.2,149.2 L371.2,150.1 L372.3,150.9 L373.3,151.6 L374.4,152.3 L375.4,152.9 L376.3,153.4 L377.2,153.9 L378.0,154.3 L378.7,154.6 L379.3,154.8 L379.9,154.9 L380.5,155.0 L381.0,155.1 L381.5,155.2 L382.0,155.3 L382.5,155.4 L382.9,155.5 L383.3,155.6 L383.6,155.7 L384.0,155.7 L384.4,155.8 L384.8,155.8 L385.3,155.9 L385.9,156.0 L386.5,156.0 L387.1,156.1 L387.8,156.2 L388.5,156.2 L389.1,156.3 L389.7,156.3 L390.3,156.3 L390.8,156.3 L391.2,156.2 L391.6,156.2 L392.0,156.1 L392.4,156.0 L392.8,155.9 L393.1,155.8 L393.5,155.7 L393.9,155.6 L394.3,155.4 L394.6,155.3 L395.0,155.1 L395.3,154.9 L395.7,154.7 L396.1,154.5 L396.4,154.3 L396.7,154.1 L397.1,153.9 L397.4,153.6 L397.7,153.4 L398.1,153.1 L398.4,152.9 L398.7,152.6 L399.0,152.3 L399.3,152.0 L399.6,151.6 L400.0,151.3 L400.3,150.9 L400.6,150.5 L400.9,150.1 L401.1,149.7 L401.4,149.3 L401.6,148.9 L401.8,148.5 L402.0,148.1 L402.2,147.7 L402.4,147.3 L402.6,146.9 L402.7,146.5 L402.9,146.0 L403.1,145.5 L403.2,145.0 L403.4,144.5 L403.6,143.9 L403.7,143.4 L403.9,142.8 L404.0,142.2 L404.2,141.5 L404.4,140.8 L404.6,140.0 L404.8,139.2 L405.1,138.4 L405.3,137.6 L405.5,136.7 L405.7,135.9 L406.0,135.0 L406.2,134.2 L406.5,133.3 L406.7,132.5 L407.0,131.7 L407.2,130.8 L407.5,129.9 L407.8,129.0 L408.2,128.0 L408.6,126.9 L409.0,125.8 L409.5,124.6 L410.0,123.4 L410.5,122.1 L411.0,120.9 L411.5,119.7 L412.0,118.5 L412.5,117.3 L413.0,116.1 L413.6,114.9 L414.1,113.7 L414.7,112.6 L415.2,111.5 L415.7,110.6 L416.2,109.8 L416.7,109.1 L417.1,108.6 L417.5,108.2 L417.9,107.9 L418.3,107.6 L418.7,107.3 L419.1,107.1 L419.5,106.9 L419.9,106.7 L420.2,106.5 L420.5,106.3 L420.9,106.2 L421.2,106.1 L421.5,106.0 L421.8,106.0 L422.2,106.0 L422.6,106.0 L422.9,106.1 L423.3,106.2 L423.7,106.3 L424.1,106.5 L424.5,106.6 L424.9,106.8 L425.3,107.0 L425.7,107.2 L426.1,107.5 L426.4,107.7 L426.8,108.0 L427.2,108.3 L427.6,108.6 L427.9,108.9 L428.3,109.2 L428.7,109.5 L429.0,109.8 L429.3,110.2 L429.7,110.5 L430.0,110.9 L430.3,111.3 L430.7,111.6 L431.0,112.0 L431.3,112.4 L431.6,112.8 L432.0,113.2 L432.3,113.6 L432.6,114.0 L432.9,114.4 L433.2,114.8 L433.5,115.2 L433.8,115.6 L434.1,115.9 L434.4,116.2 L434.7,116.5 L435.0,116.9 L435.3,117.2 L435.6,117.6 L436.0,118.0 L436.4,118.4 L436.8,118.9 L437.2,119.4 L437.6,119.9 L438.0,120.5 L438.5,121.0 L438.9,121.5 L439.4,122.1 L439.9,122.7 L440.3,123.2 L440.8,123.8 L441.3,124.4 L441.8,125.0 L442.3,125.7 L442.8,126.3 L443.3,126.9 L443.8,127.5 L444.3,128.2 L444.9,128.8 L445.4,129.5 L446.0,130.1 L446.5,130.7 L447.0,131.4 L447.5,132.0 L448.0,132.6 L448.4,133.2 L448.8,133.8 L449.2,134.3 L449.6,134.9 L450.0,135.5 L450.5,136.1 L451.0,136.8 L451.6,137.5 L452.2,138.3 L452.8,139.1 L453.4,139.9 L454.1,140.7 L454.8,141.5 L455.5,142.4 L456.2,143.2 L456.9,144.1 L457.7,145.0 L458.4,145.9 L459.2,146.8 L460.0,147.7 L460.7,148.6 L461.5,149.4 L462.3,150.2 L463.1,150.9 L463.8,151.6 L464.6,152.2 L465.4,152.8 L466.2,153.3 L467.0,153.9 L467.7,154.3 L468.5,154.8 L469.3,155.2 L470.0,155.6 L470.8,155.9 L471.5,156.2 L472.3,156.5 L473.1,156.8 L473.8,157.0 L474.6,157.2 L475.4,157.4 L476.1,157.6 L476.9,157.7 L477.7,157.8 L478.5,157.9 L479.3,158.0 L480.0,158.0 L480.8,158.0 L481.6,158.0 L482.4,157.9 L483.2,157.8 L484.0,157.6 L484.8,157.5 L485.5,157.3 L486.2,157.1 L486.9,156.9 L487.5,156.7 L488.1,156.5 L488.6,156.3 L489.1,156.0 L489.6,155.7 L490.1,155.5 L490.5,155.1 L491.0,154.8 L491.4,154.4 L491.9,154.0 L492.3,153.6 L492.6,153.1 L493.0,152.7 L493.4,152.2 L493.7,151.7 L494.1,151.2 L494.4,150.7 L494.8,150.2 L495.1,149.6 L495.4,149.1 L495.7,148.5 L496.1,147.9 L496.4,147.4 L496.7,146.8" stroke="#0b73c3" stroke-width="1.6" stroke-linecap="round"/>
</g>
<!-- flight direction arrow -->
<line x1="237.5" y1="160.3" x2="355" y2="160.3" stroke="#0b73c3" stroke-width="1.9"/>
<polygon points="359.2,160.3 354.1,157.5 354.1,163.1" fill="#0b73c3"/>
<!-- wind arrows -->
<line x1="183.6" y1="189.1" x2="235.8" y2="219.6" stroke="#000" stroke-width="1.9"/>
<polygon points="239.7,221.9 233.5,221.6 236.4,216.6" fill="#000"/>
<line x1="183.6" y1="198.1" x2="218.7" y2="218.4" stroke="#000" stroke-width="1.9"/>
<polygon points="222.6,220.6 216.4,220.4 219.3,215.3" fill="#000"/>
<line x1="183.6" y1="206.7" x2="207.3" y2="220.2" stroke="#000" stroke-width="1.9"/>
<polygon points="211.2,222.4 205.0,222.2 207.9,217.2" fill="#000"/>
<line x1="183.6" y1="213.9" x2="193.9" y2="219.8" stroke="#000" stroke-width="1.9"/>
<polygon points="197.8,222.0 191.6,221.8 194.5,216.8" fill="#000"/>
<!-- glider -->
<g fill="#000" stroke="none">
<polygon points="66.85,107.1 80.2,102.1 96.05,98.0 96.35,99.0 81.0,104.6 67.15,108.1"/>
<polygon points="70.1,96.6 81.4,102.0 88.35,107.0 87.65,108.2 79.9,104.7 69.5,97.6"/>
<polygon points="72.3,92.1 73.7,92.1 74.1,97.1 72.7,97.1"/>
<polygon points="69.6,96.9 77.0,95.6 77.2,96.8 69.9,98.1"/>
</g>
<text x="23.8" y="140.4" text-anchor="end" font-size="8.5" class="sans">200</text>
<text x="48.2" y="154.6" text-anchor="end" font-size="8.5" class="sans">0</text>
<text x="72.7" y="168.7" text-anchor="end" font-size="8.5" class="sans">-200</text>
<text x="97.1" y="182.9" text-anchor="end" font-size="8.5" class="sans">-400</text>
<text x="121.6" y="197.0" text-anchor="end" font-size="8.5" class="sans">-600</text>
<text x="146.1" y="211.2" text-anchor="end" font-size="8.5" class="sans">-800</text>
<text x="170.5" y="225.3" text-anchor="end" font-size="8.5" class="sans">-1000</text>
<text x="195.0" y="239.4" text-anchor="end" font-size="8.5" class="sans">-1200</text>
<text x="219.4" y="253.6" text-anchor="end" font-size="8.5" class="sans">-1400</text>
<text x="238.0" y="256.1" text-anchor="start" font-size="8.5" class="sans">0</text>
<text x="269.8" y="247.5" text-anchor="start" font-size="8.5" class="sans">200</text>
<text x="301.6" y="238.9" text-anchor="start" font-size="8.5" class="sans">400</text>
<text x="333.4" y="230.3" text-anchor="start" font-size="8.5" class="sans">600</text>
<text x="365.2" y="221.7" text-anchor="start" font-size="8.5" class="sans">800</text>
<text x="398.2" y="212.6" text-anchor="start" font-size="8.5" class="sans">1000</text>
<text x="430.0" y="203.9" text-anchor="start" font-size="8.5" class="sans">1200</text>
<text x="461.8" y="195.3" text-anchor="start" font-size="8.5" class="sans">1400</text>
<text x="493.6" y="186.7" text-anchor="start" font-size="8.5" class="sans">1600</text>
<text x="525.4" y="178.1" text-anchor="start" font-size="8.5" class="sans">1800</text>
<text x="24.5" y="101.6" text-anchor="end" font-size="8.5" class="sans">10</text>
<text x="24.8" y="126.8" text-anchor="end" font-size="8.5" class="sans">0</text>
<text x="100.1" y="242.2" text-anchor="start" font-size="9.5" class="sans">North (m)</text>
<text x="338.2" y="251.3" text-anchor="start" font-size="9.5" class="sans">East (m)</text>
<text transform="translate(10.2,132.3) rotate(-90)" font-size="9.5" class="sans">Altitude (m)</text>
<text x="9.1" y="171.6" text-anchor="start" font-size="11.6" class="serif">Start</text>
<text x="9.1" y="185.7" text-anchor="start" font-size="11.6" class="serif">Point</text>
<text x="141.1" y="184.1" text-anchor="start" font-size="11.5" class="serif">Wind Direction</text>
<text x="280.4" y="177.6" text-anchor="start" font-size="11.5" class="serif">Flight</text>
<text x="280.4" y="191.7" text-anchor="start" font-size="11.5" class="serif">Direction</text>
</svg>
</body></html>
